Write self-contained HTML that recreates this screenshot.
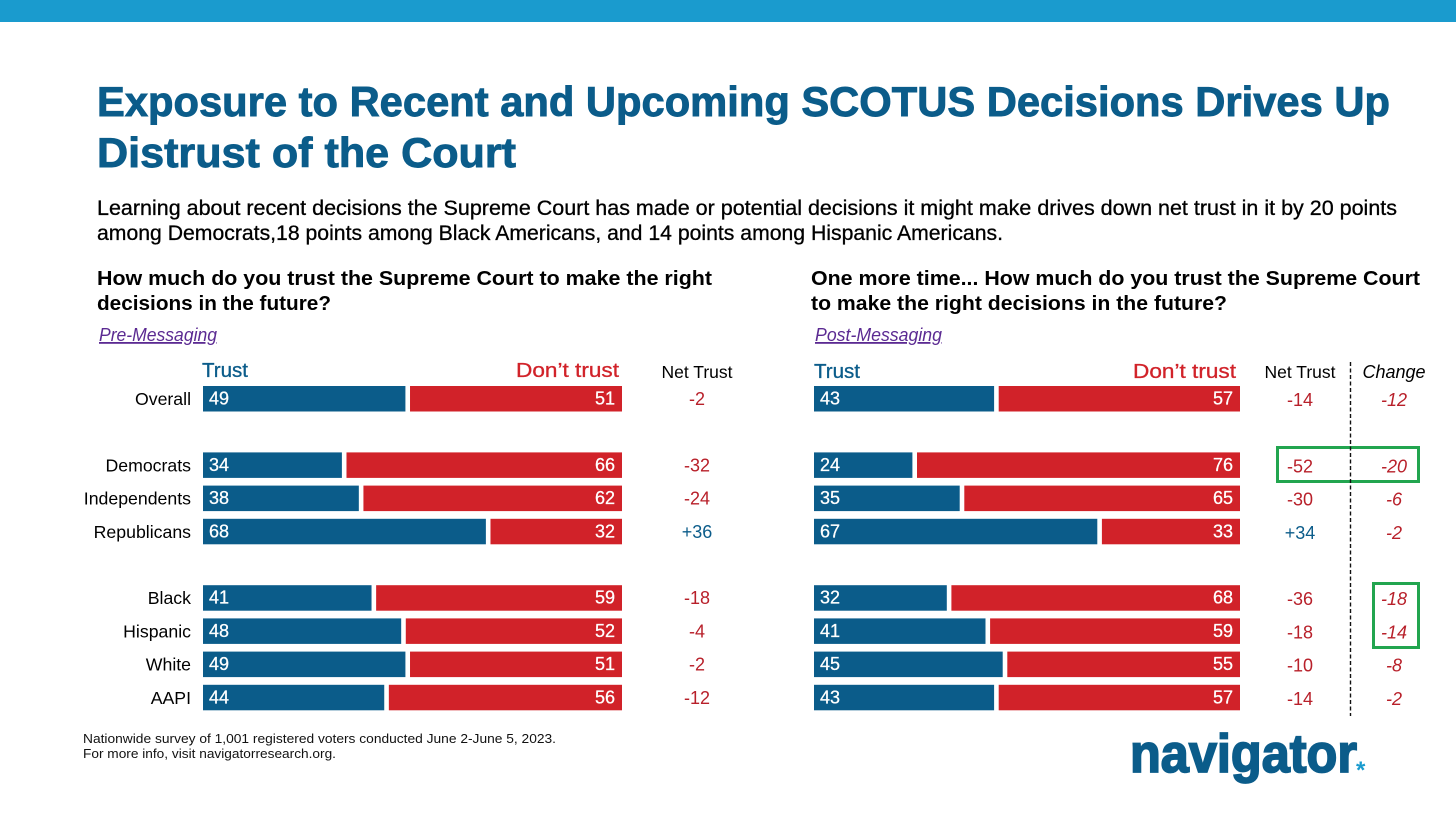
<!DOCTYPE html>
<html lang="en">
<head>
<meta charset="utf-8">
<title>Exposure to Recent and Upcoming SCOTUS Decisions</title>
<style>
html,body{margin:0;padding:0;background:#fff;width:1456px;height:819px;overflow:hidden}
svg{display:block;font-family:"Liberation Sans",sans-serif}
</style>
</head>
<body>
<svg id="chart" width="1456" height="819" viewBox="0 0 1456 819" xmlns="http://www.w3.org/2000/svg">
  <rect x="0" y="0" width="1456" height="22" fill="#1a9bce"/>
  <g fill="#0b5c8a" font-size="42" font-weight="700" stroke="#0b5c8a" stroke-width="0.9">
    <text x="97" y="116" textLength="1293" lengthAdjust="spacingAndGlyphs">Exposure to Recent and Upcoming SCOTUS Decisions Drives Up</text>
    <text x="97" y="167" textLength="419" lengthAdjust="spacingAndGlyphs">Distrust of the Court</text>
  </g>
  <g fill="#000" stroke="#000" stroke-width="0.3" font-size="21">
    <text x="97" y="215" textLength="1300" lengthAdjust="spacingAndGlyphs">Learning about recent decisions the Supreme Court has made or potential decisions it might make drives down net trust in it by 20 points</text>
    <text x="97" y="240" textLength="906" lengthAdjust="spacingAndGlyphs">among Democrats,18 points among Black Americans, and 14 points among Hispanic Americans.</text>
  </g>
  <g fill="#000" font-size="20.5" font-weight="700">
    <text x="97" y="285" textLength="615" lengthAdjust="spacingAndGlyphs">How much do you trust the Supreme Court to make the right</text>
    <text x="97" y="310" textLength="234" lengthAdjust="spacingAndGlyphs">decisions in the future?</text>
  </g>
  <g fill="#000" font-size="20.5" font-weight="700">
    <text x="811" y="285" textLength="609" lengthAdjust="spacingAndGlyphs">One more time... How much do you trust the Supreme Court</text>
    <text x="811" y="310" textLength="416" lengthAdjust="spacingAndGlyphs">to make the right decisions in the future?</text>
  </g>
  <text x="99" y="341" font-size="18" font-style="italic" fill="#5b2a92" text-decoration="underline" textLength="118" lengthAdjust="spacingAndGlyphs">Pre-Messaging</text>
  <text x="815" y="341" font-size="18" font-style="italic" fill="#5b2a92" text-decoration="underline" textLength="127" lengthAdjust="spacingAndGlyphs">Post-Messaging</text>

  <g id="left-panel"></g>
  <g id="right-panel"></g>

  <rect x="1277.5" y="447.5" width="141" height="34" fill="none" stroke="#22a54f" stroke-width="3"/>
  <rect x="1373.5" y="583.5" width="45" height="64" fill="none" stroke="#22a54f" stroke-width="3"/>
  <line x1="1350.5" y1="362" x2="1350.5" y2="716" stroke="#111" stroke-width="1.4" stroke-dasharray="4 2.5"/>

  <g fill="#111" font-size="13">
    <text x="83" y="743" textLength="473" lengthAdjust="spacingAndGlyphs">Nationwide survey of 1,001 registered voters conducted June 2-June 5, 2023.</text>
    <text x="83" y="758" textLength="253" lengthAdjust="spacingAndGlyphs">For more info, visit navigatorresearch.org.</text>
  </g>
  <g>
    <text x="1130" y="772" font-size="54" font-weight="700" fill="#0b5c8a" stroke="#0b5c8a" stroke-width="1.8" textLength="227" lengthAdjust="spacingAndGlyphs">navigator</text>
    <text x="1356" y="778" font-size="24" font-weight="700" fill="#1a9bce">*</text>
  </g>
</svg>
<script>
// Chart data (percent values)
var categories = ['Overall', 'Democrats', 'Independents', 'Republicans', 'Black', 'Hispanic', 'White', 'AAPI'];
var preTrust = [49, 34, 38, 68, 41, 48, 49, 44];
var preDistrust = [51, 66, 62, 32, 59, 52, 51, 56];
var preNet = ['-2', '-32', '-24', '+36', '-18', '-4', '-2', '-12'];
var postTrust = [43, 24, 35, 67, 32, 41, 45, 43];
var postDistrust = [57, 76, 65, 33, 68, 59, 55, 57];
var postNet = ['-14', '-52', '-30', '+34', '-36', '-18', '-10', '-14'];
var postChange = ['-12', '-20', '-6', '-2', '-18', '-14', '-8', '-2'];
var rowSlots = [0, 2, 3, 4, 6, 7, 8, 9];

var NS = 'http://www.w3.org/2000/svg';
var BLUE = '#0b5c8a', RED = '#d12229', DARKRED = '#b8202a';

function rowY(i) { return 386 + rowSlots[i] * 33.2; }

function node(parent, tag, attrs, txt) {
  var el = document.createElementNS(NS, tag);
  for (var k in attrs) el.setAttribute(k, attrs[k]);
  if (txt !== undefined) el.textContent = txt;
  parent.appendChild(el);
  return el;
}

function netColor(v) { return v.charAt(0) === '+' ? BLUE : DARKRED; }

function drawPanel(panel, trust, distrust, net, opt) {
  var x0 = opt.x0, w = opt.w, barH = 25.5, gap = 4.6;
  function xScale(v, total) { return opt.axisStart + (v / total) * 100 * opt.axisStep; }

  var h1 = node(panel, 'text', { x: opt.trustX, y: opt.headY, 'font-size': 20, fill: BLUE, stroke: BLUE, 'stroke-width': 0.3, textLength: 46, lengthAdjust: 'spacingAndGlyphs' }, 'Trust');
  
  
  var h2 = node(panel, 'text', { x: opt.dontX, y: opt.headY, 'font-size': 20, fill: RED, stroke: RED, 'stroke-width': 0.3, textLength: 103, lengthAdjust: 'spacingAndGlyphs' }, 'Don\u2019t trust');
  
  
  var h3 = node(panel, 'text', { x: opt.netX, y: 378, 'font-size': 17.5, fill: '#000', 'text-anchor': 'middle' }, 'Net Trust');
  
  

  for (var i = 0; i < categories.length; i++) {
    var y = rowY(i), total = trust[i] + distrust[i];
    var split = xScale(trust[i], total);
    var textY = y + 19;
    if (opt.showLabels) {
      var lab = node(panel, 'text', { x: 191, y: textY, 'font-size': 17.7, fill: '#000', 'text-anchor': 'end' }, categories[i]);
      
      
    }
    var b1 = node(panel, 'rect', { x: x0, y: y, width: Math.max(0, split - gap / 2 - x0), height: barH, fill: BLUE });
    
    
    var b2 = node(panel, 'rect', { x: split + gap / 2, y: y, width: Math.max(0, x0 + w - split - gap / 2), height: barH, fill: RED });
    
    
    var t1 = node(panel, 'text', { x: x0 + 6, y: textY - 0.5, 'font-size': 18, fill: '#fff', stroke: '#fff', 'stroke-width': 0.25 }, trust[i]);
    
    
    var t2 = node(panel, 'text', { x: x0 + w - 7, y: textY - 0.5, 'font-size': 18, fill: '#fff', stroke: '#fff', 'stroke-width': 0.25, 'text-anchor': 'end' }, distrust[i]);
    
    
    var n = node(panel, 'text', { x: opt.netX, y: textY + opt.netDy, 'font-size': 18, fill: netColor(net[i]), 'text-anchor': 'middle' }, net[i]);
    
    
    if (opt.change) {
      var c = node(panel, 'text', { x: 1394, y: textY + opt.netDy, 'font-size': 18, 'font-style': 'italic', fill: DARKRED, 'text-anchor': 'middle' }, opt.change[i]);
      
      
    }
  }
  if (opt.change) {
    var ch = node(panel, 'text', { x: 1394, y: 378, 'font-size': 18, 'font-style': 'italic', fill: '#000', 'text-anchor': 'middle' }, 'Change');
    
    
  }
}

drawPanel(document.getElementById('left-panel'), preTrust, preDistrust, preNet,
  { x0: 203, w: 419, axisStart: 200.2, axisStep: 4.235, trustX: 202, dontX: 516, headY: 377, netX: 697, netDy: 0, showLabels: true });
drawPanel(document.getElementById('right-panel'), postTrust, postDistrust, postNet,
  { x0: 814, w: 426, axisStart: 811.5, axisStep: 4.3, trustX: 814, dontX: 1133, headY: 378, netX: 1300, netDy: 1, showLabels: false, change: postChange });
</script>
</body>
</html>
